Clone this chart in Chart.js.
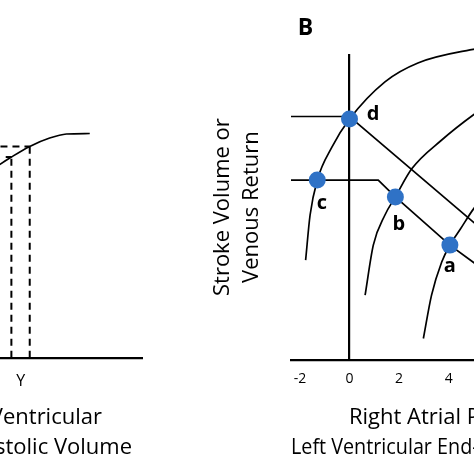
<!DOCTYPE html>
<html lang="en">
<head>
<meta charset="UTF-8">
<title>Cardiac function and venous return curves</title>
<script src="https://cdn.jsdelivr.net/npm/chart.js"></script>
<style>
  html, body { margin: 0; padding: 0; background: #fff; }
  body { width: 474px; height: 474px; overflow: hidden; position: relative; }
  #chartA { position: absolute; left: -100px; top: 0; }
  #chartB { position: absolute; left: 200px; top: 0; }
</style>
</head>
<body>
<canvas id="chartA" width="243" height="474"></canvas>
<canvas id="chartB" width="640" height="474"></canvas>
<script>
// ---- panel A (only its right part shows) ----
const tickValuesA = [4.6];
const tickLabelsA = ['Y'];
const xTitleA = ['Left Ventricular', 'End-Diastolic Volume'];
const curveAX = [2.9, 3.67, 4.19, 5.0, 5.88, 6.62, 7.65];
const curveAY = [7.15, 7.63, 7.93, 8.35, 8.68, 8.84, 8.86];
const dropX = [4.19, 5.0];          // dashed lines down to the axis
const dropY = [7.93, 8.35];
const dashStartX = [3.94, 0];       // dashed lines across to the y axis

// ---- panel B ----
const tickValuesB = [-2, 0, 2, 4, 6, 8, 10];
const xTitleB = ['Right Atrial Pressure or', 'Left Ventricular End-Diastolic Pressure'];
const yTitleB = ['Stroke Volume or', 'Venous Return'];
const pointNames = ['a', 'b', 'c', 'd'];
const pointX = [4.05, 1.85, -1.30, 0];
const pointY = [4.51, 6.40, 7.06, 9.45];
// cardiac function curves
const cfUpperX = [-1.77, -1.59, -1.30, -0.71, 0, 1.43, 2.76, 4.86, 6.9];
const cfUpperY = [3.92, 5.69, 7.06, 8.35, 9.45, 10.91, 11.65, 12.16, 12.43];
const cfMiddleX = [0.63, 0.96, 1.43, 1.85, 2.51, 3.72, 4.99, 6.5];
const cfMiddleY = [2.55, 4.51, 5.69, 6.40, 7.5, 8.63, 9.61, 10.6];
const cfLowerX = [2.98, 3.31, 3.72, 4.05, 4.48, 5.02, 6.0];
const cfLowerY = [0.85, 2.55, 3.85, 4.51, 5.15, 5.95, 7.0];
// venous return curves
const vrHighX = [-2.36, 0, 6.5];
const vrHighY = [9.55, 9.55, 4.17];
const vrLowX = [-2.36, 1.16, 1.85, 4.05, 5.02, 6.5];
const vrLowY = [7.06, 7.06, 6.40, 4.51, 3.82, 2.8];

const ink = '#000';
const dotColor = '#2F72C6';
const family = '"Open Sans", Lato, sans-serif';
Chart.defaults.font.family = family;
Chart.defaults.color = ink;

const pts = (xs, ys) => xs.map((x, i) => ({ x: x, y: ys[i] }));
const line = (data, extra) => Object.assign({
  data: data, showLine: true, pointRadius: 0, borderColor: ink,
  borderWidth: 1.7, tension: 0, clip: false, order: 1
}, extra || {});
const smooth = { cubicInterpolationMode: 'monotone' };
const dashed = { borderDash: [7, 5], borderWidth: 2 };

// label offsets (px) for a, b, c, d
const labelDx = [0, 3.5, 4.7, 23.5];
const labelDy = [26.7, 33.3, 29, 1];

const pointLabels = {
  id: 'pointLabels',
  afterDatasetsDraw(chart) {
    const { ctx, scales: { x, y } } = chart;
    ctx.save();
    ctx.fillStyle = ink;
    ctx.font = 'bold 20px ' + family;
    ctx.textAlign = 'center';
    ctx.textBaseline = 'alphabetic';
    pointNames.forEach((n, i) => {
      ctx.fillText(n, x.getPixelForValue(pointX[i]) + labelDx[i], y.getPixelForValue(pointY[i]) + labelDy[i]);
    });
    ctx.font = 'bold 23px ' + family;
    ctx.fillText('B', 105.5, 35);
    ctx.restore();
  }
};

new Chart(document.getElementById('chartA'), {
  type: 'scatter',
  data: {
    datasets: [
      line(pts(curveAX, curveAY), smooth),
      line(pts([dropX[0], dropX[0]], [0, dropY[0]]), dashed),
      line(pts([dropX[1], dropX[1]], [0, dropY[1]]), dashed),
      line(pts([dashStartX[0], dropX[0]], [dropY[0], dropY[0]]), dashed),
      line(pts([dashStartX[1], dropX[1]], [dropY[1], dropY[1]]), dashed)
    ]
  },
  options: {
    responsive: false, animation: false, devicePixelRatio: 1,
    layout: { padding: { left: 4, right: 0, top: 54, bottom: 11 } },
    plugins: { legend: { display: false }, tooltip: { enabled: false } },
    scales: {
      x: {
        type: 'linear', min: -0.55, max: 10,
        afterBuildTicks: s => { s.ticks = tickValuesA.map(v => ({ value: v })); },
        ticks: { padding: 14, font: { size: 16 }, color: ink, callback: (v, i) => tickLabelsA[i] },
        grid: { display: false, drawTicks: false },
        border: { display: true, color: ink, width: 2.2 },
        title: { display: true, text: xTitleA, color: ink, font: { size: 22, lineHeight: 30 / 22 }, padding: { top: -2, bottom: 0 } }
      },
      y: { type: 'linear', display: false, min: 0, max: 12 }
    }
  }
});

new Chart(document.getElementById('chartB'), {
  type: 'scatter',
  data: {
    datasets: [
      { data: pts(pointX, pointY), pointRadius: 8.5, pointBackgroundColor: dotColor, pointBorderWidth: 0, order: 0, clip: false },
      line(pts(cfUpperX, cfUpperY), smooth),
      line(pts(cfMiddleX, cfMiddleY), smooth),
      line(pts(cfLowerX, cfLowerY), smooth),
      line(pts(vrHighX, vrHighY)),
      line(pts(vrLowX, vrLowY))
    ]
  },
  options: {
    responsive: false, animation: false, devicePixelRatio: 1,
    layout: { padding: { left: 0, right: 197, top: 54, bottom: 11 } },
    plugins: { legend: { display: false }, tooltip: { enabled: false } },
    scales: {
      x: {
        type: 'linear', min: -2.36, max: 11.84,
        afterBuildTicks: s => { s.ticks = tickValuesB.map(v => ({ value: v })); },
        ticks: { padding: 10, font: { size: 14 }, color: ink, callback: v => String(v) },
        grid: {
          drawTicks: false, lineWidth: 2.2,
          color: c => (c.tick && c.tick.value === 0) ? ink : 'rgba(0,0,0,0)'
        },
        border: { display: true, color: ink, width: 2.2 },
        title: { display: true, text: xTitleB, color: ink, font: { size: 22, lineHeight: 30 / 22 }, padding: { top: 6, bottom: 0 } }
      },
      y: {
        type: 'linear', min: 0, max: 12,
        ticks: { display: false },
        grid: { display: false, drawTicks: false },
        border: { display: false },
        title: { display: true, text: yTitleB, color: ink, font: { size: 22, lineHeight: 29 / 22 }, padding: { top: 8, bottom: 25 } }
      }
    }
  },
  plugins: [pointLabels]
});
</script>
</body>
</html>
